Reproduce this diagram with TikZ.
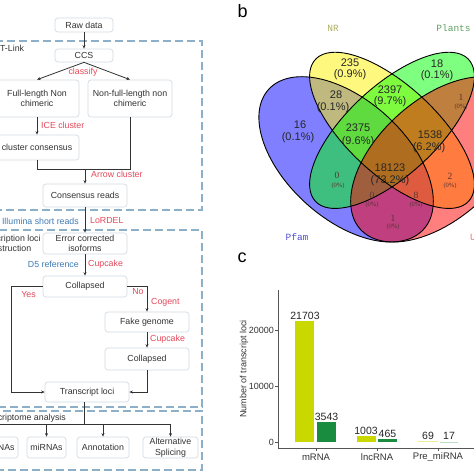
\documentclass[tikz,border=0pt]{standalone}
\usepackage{fontspec}
\setmainfont{Liberation Sans}
\newfontfamily\serifv{Liberation Serif}
\newfontfamily\monov{Liberation Mono}
\usetikzlibrary{arrows.meta,calc}
\definecolor{dashblue}{HTML}{8EAFC8}
\definecolor{boxline}{HTML}{D3DCE3}
\definecolor{txt}{HTML}{333333}
\definecolor{redlab}{HTML}{E5485A}
\definecolor{bluelab}{HTML}{3F7BB5}
\definecolor{axisgray}{HTML}{555555}
\definecolor{barlime}{HTML}{C9D900}
\definecolor{bargreen}{HTML}{1A8C3F}
\definecolor{nrcol}{HTML}{B0B060}
\definecolor{plcol}{HTML}{5FA060}
\definecolor{pfcol}{HTML}{4F4FD0}
\definecolor{upcol}{HTML}{E07878}
\definecolor{smalltxt}{HTML}{5A3535}
\tikzset{
  fbox/.style={draw=boxline, line width=0.7pt, rounded corners=3pt, fill=white, text=txt, align=center, inner sep=0pt},
  dbox/.style={draw=dashblue, line width=1.1pt, dash pattern=on 8pt off 4pt},
  conn/.style={draw=txt, line width=0.8pt},
  arr/.style={conn, -{Stealth[length=3.5pt,width=3pt]}},
  redt/.style={text=redlab, inner sep=0pt},
  bluet/.style={text=bluelab, inner sep=0pt},
  plaint/.style={text=txt, inner sep=0pt},
  vnum/.style={font=\fontsize{11}{11}\selectfont, text=black!85, inner sep=0pt},
  vsn/.style={font=\serifv\fontsize{9.5}{9.5}\selectfont, text=smalltxt, inner sep=0pt},
  vsp/.style={font=\serifv\fontsize{6.5}{6.5}\selectfont, text=smalltxt, inner sep=0pt},
  vset/.style={font=\monov\fontsize{9.5}{9.5}\selectfont, inner sep=0pt},
  axisl/.style={draw=axisgray, line width=0.8pt},
  ticklab/.style={font=\fontsize{9}{9}\selectfont, text=txt, inner sep=0pt},
  barlab/.style={font=\fontsize{10.5}{10.5}\selectfont, text=black!85, inner sep=0pt},
  panel/.style={font=\fontsize{18}{18}\selectfont, inner sep=0pt, anchor=base west}
}
\begin{document}
\begin{tikzpicture}[x=1pt, y=-1pt, font=\fontsize{8.8}{10.5}\selectfont]
\useasboundingbox (0,0) rectangle (474,474);
\clip (0,0) rectangle (474,474);
\fill[white] (0,0) rectangle (474,474);

% ---------------- panel a: flowchart ----------------
\draw[dbox] (-5,41) rectangle (202,210);
\draw[dbox] (-5,230) rectangle (202,407);
\draw[dbox] (-5,411) rectangle (202,470);

\node[fbox, minimum width=58pt, minimum height=14pt] (raw) at (84,25) {Raw data};
\node[fbox, minimum width=58pt, minimum height=13pt] (ccs) at (84,55.5) {CCS};
\node[fbox, minimum width=84pt, minimum height=37pt] (full) at (37,98.5) {Full-length Non\\chimeric};
\node[fbox, minimum width=84pt, minimum height=37pt] (nonfull) at (130,98.5) {Non-full-length non\\chimeric};
\node[fbox, minimum width=84pt, minimum height=25pt] (clcons) at (37,147.5) {cluster consensus};
\node[fbox, minimum width=84pt, minimum height=23pt] (consreads) at (85,195.5) {Consensus reads};
\node[fbox, minimum width=84pt, minimum height=21pt] (errcorr) at (85,243.5) {Error corrected\\isoforms};
\node[fbox, minimum width=84pt, minimum height=21pt] (coll1) at (85,286.5) {Collapsed};
\node[fbox, minimum width=84pt, minimum height=20pt] (fake) at (147,322) {Fake genome};
\node[fbox, minimum width=84pt, minimum height=22pt] (coll2) at (147,359) {Collapsed};
\node[fbox, minimum width=84pt, minimum height=20pt] (tloci) at (87,392) {Transcript loci};
\node[fbox, minimum width=41pt, minimum height=21pt] (lnc) at (-2.5,447.5) {lncRNAs};
\node[fbox, minimum width=39pt, minimum height=21pt] (mirna) at (46.5,447.5) {miRNAs};
\node[fbox, minimum width=52pt, minimum height=21pt] (annot) at (103,447.5) {Annotation};
\node[fbox, minimum width=55pt, minimum height=21pt] (altspl) at (170.5,447.5) {Alternative\\Splicing};

\node[plaint, anchor=west] (smrt) at (-19.5,48) {SMRT-Link};
\node[redt] (classify) at (83,72) {classify};
\node[redt, anchor=west] (ice) at (41,125) {ICE cluster};
\node[redt, anchor=west] (arrowcl) at (91,174) {Arrow cluster};
\node[bluet, anchor=east] (illu) at (79,221) {Illumina short reads};
\node[redt, anchor=west] (lordel) at (90,221) {LoRDEL};
\node[plaint, align=center] (tlc) at (7.5,243.5) {Transcription loci\\construction};
\node[bluet, anchor=east] (d5) at (79,264) {D5 reference};
\node[redt, anchor=west] (cup1) at (88,264) {Cupcake};
\node[redt] (yes) at (28.5,295) {Yes};
\node[redt] (no) at (138,292) {No};
\node[redt, anchor=west] (cogent) at (151,302) {Cogent};
\node[redt, anchor=west] (cup2) at (150,339) {Cupcake};
\node[plaint, anchor=east] (tanal) at (66,418) {Transcriptome analysis};

\draw[arr] (raw) -- (ccs);
\draw[arr] (ccs.south) -- (full.north);
\draw[arr] (ccs.south) -- (nonfull.north);
\draw[arr] (full) -- (clcons);
\coordinate (merge) at (85,169);
\draw[conn] (clcons.south) |- (merge);
\draw[conn] (nonfull.south) |- (merge);
\draw[arr] (merge) -- (consreads.north);
\draw[arr] (consreads) -- (errcorr);
\draw[arr] (errcorr) -- (coll1);
\draw[arr] (coll1.west) -- ++(-31,0) |- (tloci.west);
\draw[arr] (coll1.east) -| (fake.north);
\draw[arr] (fake) -- (coll2);
\draw[arr] (coll2.south) |- (tloci.east);
\coordinate (bus) at (84,424);
\draw[conn] (tloci.south -| bus) -- (bus);
\draw[conn] (lnc.north |- bus) -- (altspl.north |- bus);
\foreach \n in {lnc,mirna,annot,altspl} \draw[arr] (\n.north |- bus) -- (\n.north);

% ---------------- panel b: Venn ----------------
\node[panel] (lb) at (237.5,17) {b};
\begin{scope}[shift={(239,295.65)}, x={(306pt,0pt)}, y={(0pt,290pt)}]
  \fill[blue, fill opacity=0.5] plot[domain=0:360,samples=145] ({0.35+(0.35*cos(\x)+0.2*sin(\x))*0.70711},{0.47+(0.2*sin(\x)-0.35*cos(\x))*0.70711}) -- cycle;
  \fill[yellow, fill opacity=0.5] plot[domain=0:360,samples=145] ({0.5+(0.35*cos(\x)+0.15*sin(\x))*0.70711},{0.57+(0.15*sin(\x)-0.35*cos(\x))*0.70711}) -- cycle;
  \fill[green, fill opacity=0.5] plot[domain=0:360,samples=145] ({0.5+(0.35*cos(\x)-0.15*sin(\x))*0.70711},{0.57+(0.35*cos(\x)+0.15*sin(\x))*0.70711}) -- cycle;
  \fill[red, fill opacity=0.5] plot[domain=0:360,samples=145] ({0.65+(0.35*cos(\x)-0.2*sin(\x))*0.70711},{0.47+(0.35*cos(\x)+0.2*sin(\x))*0.70711}) -- cycle;
  \draw[line width=0.9pt] plot[domain=0:360,samples=145] ({0.35+(0.35*cos(\x)+0.2*sin(\x))*0.70711},{0.47+(0.2*sin(\x)-0.35*cos(\x))*0.70711}) -- cycle;
  \draw[line width=0.9pt] plot[domain=0:360,samples=145] ({0.5+(0.35*cos(\x)+0.15*sin(\x))*0.70711},{0.57+(0.15*sin(\x)-0.35*cos(\x))*0.70711}) -- cycle;
  \draw[line width=0.9pt] plot[domain=0:360,samples=145] ({0.5+(0.35*cos(\x)-0.15*sin(\x))*0.70711},{0.57+(0.35*cos(\x)+0.15*sin(\x))*0.70711}) -- cycle;
  \draw[line width=0.9pt] plot[domain=0:360,samples=145] ({0.65+(0.35*cos(\x)-0.2*sin(\x))*0.70711},{0.47+(0.35*cos(\x)+0.2*sin(\x))*0.70711}) -- cycle;
\end{scope}
\node[vset, text=nrcol] (snr) at (333,28) {NR};
\node[vset, text=plcol] (spl) at (453.5,28) {Plants};
\node[vset, text=pfcol] (spf) at (297,237) {Pfam};
\node[vset, text=upcol] (sup) at (490,237) {UniProt};

\node[vnum] (n1a) at (350,63) {235};   \node[vnum] (n1b) at (350,75) {(0.9\%)};
\node[vnum] (n2a) at (437,64) {18};    \node[vnum] (n2b) at (437,75.5) {(0.1\%)};
\node[vnum] (n3a) at (336,95) {28};    \node[vnum] (n3b) at (333,108) {(0.1\%)};
\node[vnum] (n4a) at (390,90) {2397};  \node[vnum] (n4b) at (390,102) {(9.7\%)};
\node[vnum] (n5a) at (300,125) {16};   \node[vnum] (n5b) at (298,138) {(0.1\%)};
\node[vnum] (n6a) at (358,128) {2375}; \node[vnum] (n6b) at (358,141.5) {(9.6\%)};
\node[vnum] (n7a) at (430,135) {1538}; \node[vnum] (n7b) at (429,148) {(6.2\%)};
\node[vnum] (n8a) at (390,168) {18123}; \node[vnum] (n8b) at (390,181) {(73.2\%)};
\node[vsn] (s1a) at (337,175) {0};  \node[vsp] (s1b) at (338,185.5) {(0\%)};
\node[vsn] (s2a) at (450,176) {2};  \node[vsp] (s2b) at (450,186) {(0\%)};
\node[vsn] (s3a) at (372,195) {0};  \node[vsp] (s3b) at (372,204.5) {(0\%)};
\node[vsn] (s4a) at (416,195) {8};  \node[vsp] (s4b) at (416,204.5) {(0\%)};
\node[vsn] (s5a) at (393,218) {1};  \node[vsp] (s5b) at (393,227) {(0\%)};
\node[vsn] (s6a) at (461,97) {1};   \node[vsp] (s6b) at (461,107) {(0\%)};

% ---------------- panel c: bar chart ----------------
\node[panel] (lc) at (237.5,262) {c};
\fill[barlime] (295,442) rectangle (314,320.5);
\fill[bargreen] (317,442) rectangle (336,422.2);
\fill[barlime] (357,442) rectangle (376,436.4);
\fill[bargreen] (378,442) rectangle (397,439.4);
\fill[barlime!40] (418,442) rectangle (438,441.2);
\fill[bargreen!30] (440,442) rectangle (458,441.5);
\draw[axisl] (278,290) -- (278,448) -- (474,448);
\draw[axisl] (275,330) -- (278,330);
\draw[axisl] (275,386) -- (278,386);
\draw[axisl] (275,442) -- (278,442);
\draw[axisl] (316,448) -- (316,451);
\draw[axisl] (377,448) -- (377,451);
\draw[axisl] (438,448) -- (438,451);
\node[ticklab, anchor=east] (t2) at (274,330) {20000};
\node[ticklab, anchor=east] (t1) at (274,386) {10000};
\node[ticklab, anchor=east] (t0) at (274,442) {0};
\node[ticklab, rotate=90] (ylab) at (244,369) {Number of transcript loci};
\node[barlab] (b1) at (305,316) {21703};
\node[barlab] (b2) at (326.5,417) {3543};
\node[barlab] (b3) at (366,430.5) {1003};
\node[barlab] (b4) at (387.5,434) {465};
\node[barlab] (b5) at (428,436) {69};
\node[barlab] (b6) at (449,436) {17};
\node[ticklab, font=\fontsize{9.5}{9.5}\selectfont] (c1) at (316,457) {mRNA};
\node[ticklab, font=\fontsize{9.5}{9.5}\selectfont] (c2) at (377,457) {lncRNA};
\node[ticklab, font=\fontsize{9.5}{9.5}\selectfont] (c3) at (438,457) {Pre\_miRNA};
\end{tikzpicture}
\end{document}
